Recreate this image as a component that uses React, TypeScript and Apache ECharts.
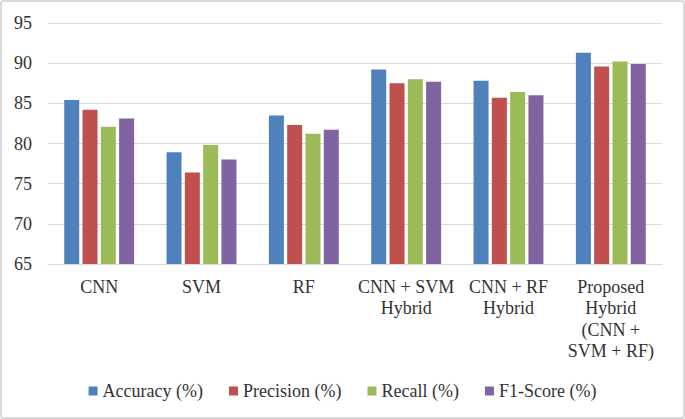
import React, { useEffect, useRef } from "react";
import * as echarts from "echarts";

const categories = [
  "CNN",
  "SVM",
  "RF",
  "CNN + SVM\nHybrid",
  "CNN + RF\nHybrid",
  "Proposed\nHybrid\n(CNN +\nSVM + RF)",
];
const seriesNames = ["Accuracy (%)", "Precision (%)", "Recall (%)", "F1-Score (%)"];
const accuracy = [85.4, 78.9, 83.5, 89.2, 87.8, 91.3];
const precision = [84.2, 76.4, 82.3, 87.5, 85.7, 89.6];
const recall = [82.1, 79.8, 81.2, 88.0, 86.4, 90.2];
const f1Score = [83.1, 78.0, 81.7, 87.7, 86.0, 89.9];
const colors = ["#4F81BD", "#C0504D", "#9BBB59", "#8064A2"];

export default function App() {
  const ref = useRef<HTMLDivElement>(null);
  useEffect(() => {
    if (!ref.current) return;
    const chart = echarts.init(ref.current, undefined, { renderer: "svg" });
    const font = "Liberation Serif";
    const values = [accuracy, precision, recall, f1Score];
    chart.setOption({
      animation: false,
      backgroundColor: "#ffffff",
      textStyle: { fontFamily: font },
      graphic: [
        {
          type: "rect",
          shape: { x: 1, y: 1, width: 683, height: 417, r: 2 },
          style: { fill: "none", stroke: "#d9d9d9", lineWidth: 2 },
          silent: true,
        },
      ],
      grid: { left: 48, right: 23, top: 23, bottom: 155 },
      legend: {
        bottom: 14,
        left: "center",
        itemWidth: 9,
        itemHeight: 9,
        itemGap: 26,
        icon: "rect",
        textStyle: { fontFamily: font, fontSize: 18, color: "#333" },
        data: seriesNames,
      },
      xAxis: {
        type: "category",
        data: categories,
        axisLine: { lineStyle: { color: "#d9d9d9", width: 1 } },
        axisTick: { show: false },
        axisLabel: {
          fontFamily: font,
          fontSize: 18,
          color: "#333",
          lineHeight: 21.5,
          margin: 12,
          interval: 0,
        },
      },
      yAxis: {
        type: "value",
        min: 65,
        max: 95,
        interval: 5,
        axisLine: { show: false },
        axisTick: { show: false },
        splitLine: { lineStyle: { color: "#d9d9d9", width: 1 } },
        axisLabel: { fontFamily: font, fontSize: 18, color: "#333", margin: 16 },
      },
      series: seriesNames.map((name, i) => ({
        name,
        type: "bar",
        data: values[i],
        barWidth: 15,
        barGap: "22%",
        itemStyle: { color: colors[i] },
      })),
    });
    return () => chart.dispose();
  }, []);
  return (
    <div
      ref={ref}
      style={{ position: "absolute", left: 0, top: 0, width: 685, height: 419 }}
    />
  );
}
